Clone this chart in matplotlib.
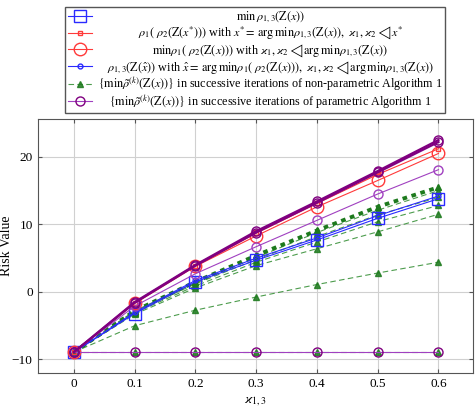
import numpy as np
import matplotlib.pyplot as plt

plt.rcParams['font.family'] = ['Liberation Serif', 'DejaVu Serif']
plt.rcParams['mathtext.fontset'] = 'stix'

# datos
kappa = [0, 0.1, 0.2, 0.3, 0.4, 0.5, 0.6]

min_rho13 = [-8.9, -3.2, 1.5, 4.7, 7.7, 10.9, 13.8]
rho12_xstar = [-8.9, -1.6, 3.9, 8.7, 13.1, 17.4, 21.2]
min_rho12 = [-8.9, -1.7, 3.8, 8.3, 12.6, 16.5, 20.5]
rho13_xhat = [-8.9, -3.0, 1.7, 5.0, 8.0, 11.3, 14.2]

# iteraciones del algoritmo no parametrico
nonparam_it1 = [-8.9, -8.9, -8.9, -8.9, -8.9, -8.9, -8.9]
nonparam_it2 = [-8.9, -5.0, -2.7, -0.75, 1.1, 2.8, 4.4]
nonparam_it3 = [-8.9, -3.3, 0.6, 3.9, 6.4, 8.9, 11.5]
nonparam_it4 = [-8.9, -3.1, 0.9, 4.4, 7.4, 10.4, 12.8]
nonparam_it5 = [-8.9, -2.9, 1.2, 4.8, 8.2, 11.4, 14.0]
nonparam_it6 = [-8.9, -2.8, 1.4, 5.1, 8.8, 12.1, 15.0]
nonparam_last = [-8.9, -2.8, 1.5, 5.4, 9.1, 12.6, 15.5]

# iteraciones del algoritmo parametrico
param_it1 = [-8.9, -8.9, -8.9, -8.9, -8.9, -8.9, -8.9]
param_it2 = [-8.9, -2.1, 2.7, 6.7, 10.6, 14.5, 18.1]
param_it3 = [-8.9, -1.6, 3.9, 8.8, 13.2, 17.7, 22.2]
param_last = [-8.9, -1.5, 4.0, 9.0, 13.4, 17.9, 22.5]

labels = [
    r'$\min\,\rho_{1,3}(\mathrm{Z}(x))$',
    r'$\rho_1(\ \rho_2(\mathrm{Z}(x^{*})))$ with $x^{*}=\,\arg\min\rho_{1,3}(\mathrm{Z}(x)),\ \varkappa_1,\varkappa_2\lhd x^{*}$',
    r'$\min\rho_1(\ \rho_2(\mathrm{Z}(x)))$ with $\varkappa_1,\varkappa_2\lhd\arg\min\rho_{1,3}(\mathrm{Z}(x))$',
    r'$\rho_{1,3}(\mathrm{Z}(\hat{x}))$ with $\hat{x}=\,\arg\min\rho_1(\ \rho_2(\mathrm{Z}(x))),\ \varkappa_1,\varkappa_2\lhd\arg\min\rho_{1,3}(\mathrm{Z}(x))$',
    r'$\{\min\tilde{\rho}^{(k)}(\mathrm{Z}(x))\}$ in successive iterations of non-parametric Algorithm 1',
    r'$\{\min\tilde{\rho}^{(k)}(\mathrm{Z}(x))\}$ in successive iterations of parametric Algorithm 1',
]

azul = '#2a2aff'
rojo = '#ff3a3a'
verde = '#2e8b2e'
verde_osc = '#1d7a1d'
morado = '#a040c0'
morado_osc = '#800080'

fig = plt.figure(figsize=(4.75, 4.09), dpi=100)
ax = fig.add_axes([0.079, 0.088, 0.917, 0.621])

# verdes (no parametrico)
h_verde = None
for serie in [nonparam_it1, nonparam_it2, nonparam_it3, nonparam_it4, nonparam_it5, nonparam_it6]:
    l, = ax.plot(kappa, serie, '--', color=verde, alpha=0.85, lw=0.8, marker='^', ms=5,
                 mfc=verde_osc, mec=verde_osc, dashes=(5, 3))
    if h_verde is None:
        h_verde = l
ax.plot(kappa, nonparam_last, ':', color=verde_osc, lw=2.8, marker='^', ms=5,
        mfc=verde_osc, mec=verde_osc, dash_capstyle='butt', dashes=(1.2, 1.2))

# azules
h1, = ax.plot(kappa, min_rho13, '-', color=azul, lw=0.8, marker='s', ms=9, mfc='none', mec=azul)
h4, = ax.plot(kappa, rho13_xhat, '-', color=azul, lw=0.8, marker='o', ms=3.5, mfc='none', mec=azul)

# rojos
h2, = ax.plot(kappa, rho12_xstar, '-', color=rojo, lw=0.8, marker='s', ms=3.5, mfc='none', mec=rojo)
h3, = ax.plot(kappa, min_rho12, '-', color=rojo, lw=0.8, marker='o', ms=9, mfc='none', mec=rojo)

# morados (parametrico)
h6, = ax.plot(kappa, param_it1, '-', color=morado, lw=0.8, marker='o', ms=6.5, mfc='none', mec=morado_osc)
ax.plot(kappa, param_it2, '-', color=morado, lw=0.8, marker='o', ms=6.5, mfc='none', mec=morado)
ax.plot(kappa, param_it3, '-', color=morado_osc, lw=1.6, marker='o', ms=6.5, mfc='none', mec=morado_osc)
ax.plot(kappa, param_last, '-', color=morado_osc, lw=1.6, marker='o', ms=6.5, mfc='none', mec=morado_osc)

ax.set_xlim(-0.06, 0.657)
ax.set_ylim(-12, 25.6)
ax.set_xticks(kappa)
ax.set_xticklabels(['0', '0.1', '0.2', '0.3', '0.4', '0.5', '0.6'])
ax.set_yticks([-10, 0, 10, 20])
ax.grid(True, color='#d0d0d0', lw=0.8)
ax.set_axisbelow(True)
ax.tick_params(direction='in', length=3, top=True, right=True, labelsize=9.5, color='#555555')
for s in ax.spines.values():
    s.set_color('#555555')
ax.set_xlabel(r'$\varkappa_{1,3}$', fontsize=10)
ax.set_ylabel('Risk Value', fontsize=10)
ax.yaxis.set_label_coords(-0.057, 0.5)

leg = fig.legend([h1, h2, h3, h4, h_verde, h6], labels, loc='upper center',
                 bbox_to_anchor=(0.537, 0.997), fontsize=8.7, fancybox=False,
                 edgecolor='#555555', framealpha=1, handlelength=2.0,
                 borderpad=0.2, labelspacing=0.0, handletextpad=0.5)
leg.get_frame().set_linewidth(1.0)

# centrar los textos de la leyenda
fig.canvas.draw()
textos = leg.get_texts()
anchos = [t.get_window_extent().width for t in textos]
ancho_max = max(anchos)
for t, w in zip(textos, anchos):
    t.set_position(((ancho_max - w) / 2, 0))

fig.savefig('out.png', dpi=100)
